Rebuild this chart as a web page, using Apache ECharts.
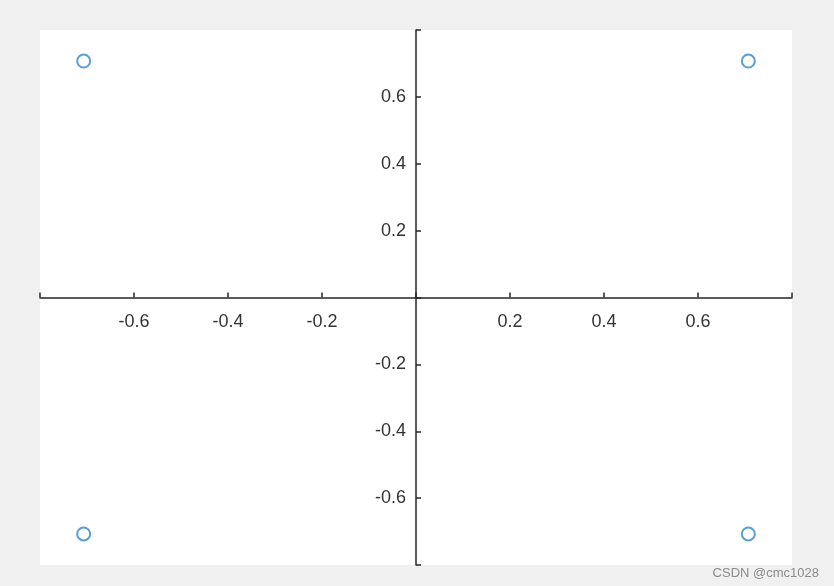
<!DOCTYPE html>
<html>
<head>
<meta charset="utf-8">
<script src="https://cdn.jsdelivr.net/npm/echarts@6/dist/echarts.min.js"></script>
<style>
html,body{margin:0;padding:0;background:#f0f0f0;}
#c{width:834px;height:586px;}
</style>
</head>
<body>
<div id="c"></div>
<script>
const xValues = [-0.7071, 0.7071, -0.7071, 0.7071];
const yValues = [0.7071, 0.7071, -0.7071, -0.7071];
const axisMin = -0.8, axisMax = 0.8, axisStep = 0.2;

const points = xValues.map((x, i) => [x, yValues[i]]);
const fmt = v => (Math.abs(v) < 1e-9 || Math.abs(Math.abs(v) - 0.8) < 1e-9) ? '' : v.toFixed(1);
const axisColor = '#262626';
const G = {left: 40, right: 42, top: 30, bottom: 21};
const W = 834 - G.left - G.right, H = 586 - G.top - G.bottom;

const chart = echarts.init(document.getElementById('c'), null, {renderer: 'canvas'});
chart.setOption({
  backgroundColor: '#f0f0f0',
  animation: false,
  grid: Object.assign({show: true, backgroundColor: '#ffffff', borderWidth: 0, containLabel: false, outerBoundsMode: 'none'}, G),
  xAxis: {
    type: 'value', min: axisMin, max: axisMax, interval: axisStep,
    position: 'bottom', offset: -H / 2,
    axisLine: {show: true, onZero: false, lineStyle: {color: axisColor, width: 1.5}},
    axisTick: {show: true, inside: true, length: 5, lineStyle: {color: axisColor, width: 1.5}},
    axisLabel: {formatter: fmt, color: '#333333', fontSize: 18, fontFamily: 'Liberation Sans, Arial, sans-serif', margin: 16, showMinLabel: true, showMaxLabel: true},
    splitLine: {show: false}
  },
  yAxis: {
    type: 'value', min: axisMin, max: axisMax, interval: axisStep,
    position: 'left', offset: -W / 2,
    axisLine: {show: true, onZero: false, lineStyle: {color: axisColor, width: 1.5}},
    axisTick: {show: true, inside: true, length: 5, lineStyle: {color: axisColor, width: 1.5}},
    axisLabel: {formatter: fmt, color: '#333333', fontSize: 18, fontFamily: 'Liberation Sans, Arial, sans-serif', margin: 10, showMinLabel: true, showMaxLabel: true},
    splitLine: {show: false}
  },
  series: [{
    type: 'scatter',
    data: points,
    symbol: 'emptyCircle',
    symbolSize: 13,
    itemStyle: {color: '#2f87c8', borderWidth: 2}
  }],
  graphic: [{
    type: 'text', right: 15, bottom: 6,
    style: {text: 'CSDN @cmc1028', fill: '#8a8a8a', fontSize: 13, fontFamily: 'Liberation Sans, Arial, sans-serif'}
  }]
});
</script>
</body>
</html>
